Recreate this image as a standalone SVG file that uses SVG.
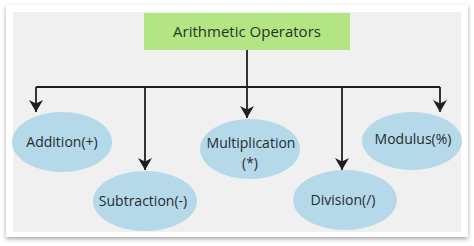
<svg xmlns="http://www.w3.org/2000/svg" width="474" height="246" viewBox="0 0 474 246">
<defs>
<style>
.lbl{font-family:"Open Sans","Noto Sans",sans-serif;font-size:14px;fill:#1f2d33;text-anchor:middle}
.title{font-family:"Open Sans","Noto Sans",sans-serif;font-size:15px;fill:#263520;text-anchor:middle}
.oval{fill:#b5d9e9}
.wire{stroke:#1e1e1e;stroke-width:1.8;fill:none}
</style>
<marker id="ah" viewBox="0 0 12 14" refX="12" refY="7" markerWidth="12" markerHeight="14" markerUnits="userSpaceOnUse" orient="auto">
<path d="M0,0 L12,7 L0,14 L3.5,7 Z" fill="#1e1e1e"/>
</marker>
<filter id="sh" x="-5%" y="-5%" width="110%" height="115%">
<feDropShadow dx="0" dy="2" stdDeviation="2" flood-color="#000" flood-opacity="0.35"/>
</filter>
</defs>
<rect x="0" y="0" width="474" height="246" fill="#ffffff"/>
<rect x="6" y="5" width="462" height="232" fill="#ffffff" filter="url(#sh)"/>
<rect x="13" y="12" width="448" height="220" fill="#f0f0f0"/>
<g id="connectors">
<path class="wire" d="M247,50 V87"/>
<path class="wire" d="M36,87 H440"/>
<path class="wire" d="M36,87 V112" marker-end="url(#ah)"/>
<path class="wire" d="M145,87 V170" marker-end="url(#ah)"/>
<path class="wire" d="M247,87 V118" marker-end="url(#ah)"/>
<path class="wire" d="M342,87 V170" marker-end="url(#ah)"/>
<path class="wire" d="M440,87 V112" marker-end="url(#ah)"/>
</g>
<g id="root">
<rect x="144" y="13" width="206" height="37" fill="#b3e584"/>
<text class="title" x="247" y="37">Arithmetic Operators</text>
</g>
<g id="addition">
<ellipse class="oval" cx="62" cy="142" rx="50" ry="30"/>
<text class="lbl" x="62" y="147">Addition(+)</text>
</g>
<g id="subtraction">
<ellipse class="oval" cx="145" cy="201" rx="52" ry="30"/>
<text class="lbl" x="143" y="206">Subtraction(-)</text>
</g>
<g id="multiplication">
<ellipse class="oval" cx="250" cy="149" rx="50" ry="30"/>
<text class="lbl" x="251" y="148">Multiplication</text>
<text class="lbl" x="250" y="168">(*)</text>
</g>
<g id="division">
<ellipse class="oval" cx="345" cy="200" rx="52" ry="30"/>
<text class="lbl" x="343" y="205">Division(/)</text>
</g>
<g id="modulus">
<ellipse class="oval" cx="412" cy="141" rx="50" ry="29"/>
<text class="lbl" x="413" y="144">Modulus(%)</text>
</g>
</svg>
